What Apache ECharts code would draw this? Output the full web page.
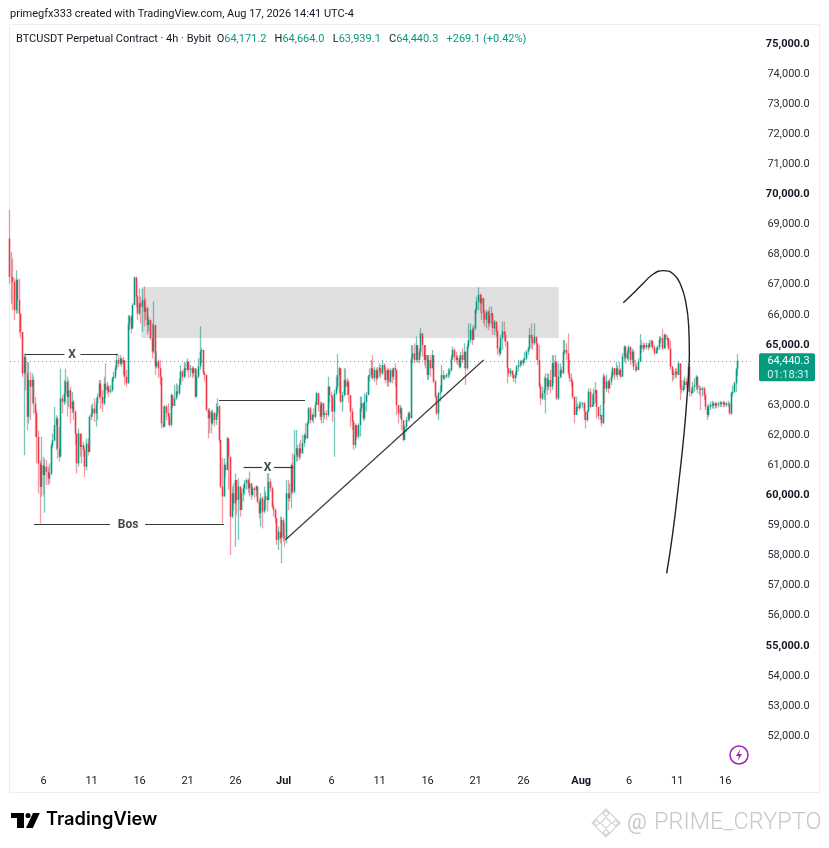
<!DOCTYPE html>
<html><head><meta charset="utf-8">
<style>html,body{margin:0;padding:0;background:#fff}#c{width:829px;height:848px}</style>
<script src="https://cdn.jsdelivr.net/npm/echarts@6/dist/echarts.min.js"></script>
</head><body><div id="c"></div>
<script>
// Bars: close, high, low, in tens of USD. Each open is the previous close.
const firstOpen = 6850;
const juneBars = [
6723,6945,6700, 6723,6806,6634, 6706,6784,6612, 6612,6718,6579, 6712,6745,6601, 6646,6718,6601,
6601,6716,6535, 6540,6601,6518, 6402,6540,6391, 6457,6468,6130, 6402,6468,6346, 6258,6440,6213,
6380,6440,6236, 6358,6407,6247, 6380,6402,6302, 6302,6391,6269, 6269,6324,6191, 6191,6280,6103,
6103,6213,6003, 6025,6114,5903, 6097,6191,5992, 6064,6125,5997, 6092,6119,5939, 6075,6114,6031,
6053,6092,6031, 6069,6103,6036, 6164,6170,6064, 6180,6202,6153, 6230,6291,6175, 6252,6263,6147,
6153,6258,6119, 6125,6225,6108, 6319,6418,6125, 6308,6330,6269, 6335,6380,6297, 6374,6418,6302,
6324,6391,6258, 6346,6380,6291, 6285,6358,6236, 6308,6341,6269, 6274,6313,6247, 6202,6280,6164,
6103,6202,6069, 6202,6219,6092, 6158,6202,6125, 6164,6202,6103, 6147,6175,6125, 6092,6158,6058,
6169,6186,6080, 6141,6186,6130, 6258,6263,6141, 6269,6297,6247, 6285,6302,6258, 6269,6319,6241,
6302,6319,6225, 6324,6335,6247, 6368,6380,6319, 6324,6380,6285, 6302,6346,6274, 6368,6391,6297,
6346,6435,6319, 6358,6374,6335, 6341,6363,6324, 6346,6363,6335, 6385,6391,6341, 6391,6407,6374,
6418,6429,6385, 6446,6468,6413, 6435,6463,6424, 6452,6463,6429, 6435,6452,6424, 6446,6457,6396,
6391,6446,6363, 6369,6413,6358, 6568,6596,6374, 6590,6596,6546, 6551,6596,6535, 6629,6635,6562,
6721,6723,6629, 6657,6723,6623, 6601,6662,6579, 6635,6684,6596, 6623,6657,6568, 6646,6684,6540,
6607,6691,6558, 6619,6652,6580, 6563,6624,6530, 6580,6591,6541, 6519,6580,6513, 6475,6569,6452,
6563,6641,6469, 6425,6563,6397, 6441,6475,6419, 6419,6447,6386, 6391,6447,6364, 6236,6391,6220,
6225,6292,6220, 6292,6297,6225, 6270,6297,6247, 6258,6303,6231, 6231,6270,6225, 6330,6336,6225,
6294,6330,6286, 6319,6364,6297, 6342,6369,6314, 6336,6364,6325, 6364,6386,6330, 6408,6430,6364,
6391,6414,6375, 6419,6441,6386, 6414,6436,6391, 6441,6452,6408, 6414,6436,6386, 6419,6430,6391,
6403,6425,6386, 6419,6425,6391, 6325,6419,6319, 6391,6414,6380, 6425,6452,6386, 6475,6558,6414,
6480,6486,6436, 6403,6480,6397, 6397,6408,6375, 6281,6397,6275, 6253,6286,6186, 6275,6286,6203,
6236,6281,6203, 6270,6281,6231, 6247,6275,6225, 6270,6303,6231, 6292,6319,6258, 6181,6297,6170,
6026,6181,6020, 5993,6120,5904, 6098,6120,6070, 6081,6103,6059, 6186,6192,6081, 6125,6186,6015,
5926,6125,5799, 6004,6026,5921, 5970,6037,5948, 6048,6070,5826, 5981,6048,5931, 6026,6053,5848,
5948,6026,5926, 6004,6020,5948, 6020,6031,5976, 6037,6048,5998, 6048,6053,6015, 6020,6053,6004,
6037,6076,5993, 5998,6037,5981, 6020,6026,5993, 6015,6026,5987, 6026,6031,5993, 5976,6026,5970,
5937,5981,5921, 5987,6004,5893, 5943,5993,5887, 5981,6026,5937, 5993,6009,5948, 5981,6070,5943,
6042,6070,5981, 6020,6053,6009, 5959,6026,5955, 5948,5970,5926, 5921,5954,5904, 5849,5921,5832,
5876,5893,5815, 5854,5926,5837, 5915,5926,5771
];
const julyBars = [
5860,5921,5843, 5854,5904,5826, 6003,6048,5837, 5987,6048,5948, 6003,6037,5976, 6098,6103,5954,
6009,6136,6003, 6131,6214,6003, 6153,6214,6109, 6125,6164,6109, 6153,6170,6114, 6136,6181,6120,
6170,6197,6142, 6197,6203,6158, 6186,6236,6181, 6236,6242,6186, 6286,6291,6231, 6247,6291,6236,
6264,6269,6242, 6258,6286,6236, 6297,6308,6253, 6336,6341,6297, 6297,6336,6275, 6258,6308,6247,
6303,6308,6236, 6264,6303,6236, 6269,6275,6253, 6264,6280,6247, 6358,6391,6258, 6330,6358,6303,
6325,6341,6275, 6275,6330,6241, 6336,6347,6125, 6358,6391,6330, 6397,6466,6347, 6419,6424,6336,
6308,6419,6303, 6330,6341,6275, 6380,6419,6325, 6358,6419,6330, 6374,6386,6330, 6330,6380,6303,
6275,6330,6225, 6242,6286,6214, 6164,6247,6148, 6230,6236,6153, 6192,6230,6181, 6230,6236,6186,
6286,6325,6192, 6303,6325,6275, 6253,6303,6242, 6308,6336,6247, 6330,6341,6275, 6391,6397,6330,
6397,6419,6374, 6419,6447,6386, 6386,6463,6380, 6413,6424,6374, 6386,6419,6363, 6413,6424,6380,
6419,6436,6391, 6402,6430,6386, 6430,6447,6397, 6413,6436,6380, 6380,6424,6369, 6413,6419,6358,
6374,6419,6358, 6413,6419,6369, 6391,6419,6369, 6419,6422,6380, 6413,6436,6358, 6297,6413,6264,
6269,6297,6236, 6286,6297,6253, 6247,6291,6214, 6181,6247,6175, 6225,6230,6192, 6247,6258,6208,
6269,6275,6242, 6253,6275,6242, 6452,6496,6253, 6469,6496,6436, 6447,6502,6436, 6496,6524,6441,
6447,6496,6436, 6474,6485,6436, 6535,6552,6458, 6496,6535,6458, 6447,6496,6430, 6463,6496,6419,
6397,6463,6380, 6447,6463,6380, 6419,6463,6391, 6463,6480,6419, 6375,6463,6369, 6325,6380,6319,
6269,6330,6264, 6336,6341,6247, 6341,6363,6308, 6397,6430,6341, 6386,6413,6380, 6391,6397,6380,
6397,6402,6386, 6402,6419,6386, 6413,6419,6391, 6452,6463,6408, 6480,6491,6447, 6458,6485,6441,
6447,6474,6436, 6452,6463,6430, 6424,6458,6419, 6463,6474,6419, 6447,6485,6436, 6474,6502,6419,
6419,6474,6363, 6491,6502,6413, 6513,6568,6485, 6546,6568,6502, 6513,6557,6496, 6552,6563,6513,
6613,6618,6546, 6640,6657,6602, 6663,6688,6613, 6635,6668,6602, 6652,6663,6580, 6602,6652,6568,
6580,6613,6557, 6607,6613,6552, 6568,6613,6546, 6596,6624,6557, 6602,6624,6568, 6552,6602,6530,
6574,6580,6530, 6541,6574,6524, 6485,6546,6463, 6469,6491,6458, 6519,6530,6463, 6541,6574,6480,
6530,6574,6508, 6508,6541,6491, 6419,6508,6369, 6402,6419,6391, 6411,6419,6391, 6397,6413,6386,
6386,6402,6374, 6397,6408,6369, 6424,6430,6391, 6430,6447,6408, 6441,6447,6422, 6436,6447,6427,
6447,6452,6427, 6452,6474,6436, 6474,6480,6447, 6485,6491,6463, 6530,6552,6480, 6519,6568,6485,
6502,6530,6480, 6524,6568,6496, 6502,6524,6447, 6447,6502,6430, 6358,6496,6352, 6319,6369,6297,
6336,6358,6313, 6347,6391,6313, 6386,6402,6269, 6358,6402,6330, 6380,6402,6347, 6358,6413,6336,
6436,6463,6347, 6391,6463,6369, 6441,6463,6391, 6319,6441,6313, 6391,6435,6313, 6413,6435,6386,
6402,6424,6386, 6474,6513,6402, 6480,6513,6463, 6469,6502,6447, 6402,6535,6397, 6386,6447,6374,
6374,6402,6358, 6325,6380,6319, 6264,6325,6236, 6291,6325,6275, 6286,6303,6275, 6297,6308,6280
];
const augustBars = [
6300,6308,6286, 6303,6308,6286, 6275,6308,6247, 6247,6275,6219, 6275,6280,6242, 6341,6352,6275,
6291,6352,6286, 6297,6330,6291, 6336,6352,6291, 6347,6374,6303, 6291,6341,6253, 6260,6291,6247,
6264,6297,6247, 6236,6264,6225, 6391,6402,6236, 6352,6397,6302, 6375,6397,6341, 6352,6380,6336,
6375,6386,6352, 6391,6408,6363, 6419,6424,6386, 6397,6419,6380, 6419,6441,6391, 6397,6430,6380,
6413,6441,6397, 6391,6419,6386, 6458,6469,6424, 6491,6496,6441, 6452,6491,6435, 6469,6480,6447,
6489,6496,6441, 6447,6493,6430, 6474,6485,6435, 6424,6480,6413, 6424,6447,6408, 6413,6435,6408,
6441,6452,6413, 6496,6533,6447, 6485,6513,6469, 6496,6504,6474, 6489,6502,6480, 6496,6504,6482,
6489,6502,6478, 6502,6513,6485, 6508,6515,6489, 6489,6513,6480, 6469,6496,6463, 6480,6489,6467,
6489,6496,6469, 6513,6526,6480, 6519,6524,6502, 6485,6550,6480, 6530,6535,6485, 6515,6533,6485,
6519,6530,6496, 6485,6519,6480, 6424,6513,6413, 6397,6427,6374, 6402,6413,6380, 6408,6419,6386,
6397,6419,6386, 6435,6441,6397, 6352,6435,6314, 6347,6380,6336, 6363,6380,6341, 6375,6391,6347,
6363,6386,6352, 6424,6435,6341, 6341,6424,6325, 6336,6352,6325, 6358,6375,6336, 6363,6386,6341,
6391,6397,6347, 6352,6391,6336, 6352,6363,6330, 6347,6358,6280, 6352,6358,6325, 6330,6358,6314,
6291,6336,6280, 6264,6297,6247, 6291,6302,6258, 6297,6308,6280, 6302,6311,6286, 6294,6308,6283,
6302,6308,6286, 6297,6305,6286, 6300,6308,6289, 6305,6311,6291, 6300,6308,6289, 6305,6311,6291,
6297,6308,6289, 6302,6308,6291, 6302,6311,6291, 6269,6305,6264, 6336,6341,6264, 6341,6363,6325,
6369,6375,6336, 6417,6419,6341, 6444,6466,6394
];
const lastPrice = 64440.3;
const lastPriceText = '64,440.3';
const countdownText = '01:18:31';
const yTicks = {min:51000, max:75000, step:1000};
const demandZone = {fromBar:82, toBar:343, top:66890, bottom:65200};
const flatLines = [
  {from:9.4, to:34, price:64664}, {from:44, to:67.5, price:64664},
  {from:15, to:62.5, price:59015}, {from:84.4, to:133.8, price:59015},
  {from:130.6, to:184.4, price:63136},
  {from:146, to:157.5, price:60909}, {from:165, to:177, price:60909}
];
const trendLine = {fromBar:172, fromPrice:58483, toBar:296, toPrice:64465};
const annotations = [[38.8,64664,'X'],[73.8,59015,'Bos'],[161,60909,'X']];
const curve = [[383.3,66370],[389.6,66682],[395.8,67015],[402.1,67324],[408.3,67434],[414.6,67324],[419.2,66958],[422.5,66350],[424.2,65573],[424.6,64689],[423.3,63359],[421.3,62030],[417.7,60256],[414.2,58707],[410.4,57378]];

const flat = [...juneBars, ...julyBars, ...augustBars];
const full = [], bodies = [], categories = [];
let prev = firstOpen;
for (let k = 0; k < flat.length; k += 3) {
  const c = flat[k]*10, h = flat[k+1]*10, l = flat[k+2]*10, o = prev*10;
  full.push([o, c, Math.min(l,o,c), Math.max(h,o,c)]);
  bodies.push([o, c, Math.min(o,c), Math.max(o,c)]);
  prev = flat[k];
}
const startMs = Date.UTC(2026,5,2,12), stepMs = 4*3600*1000;
const spare = 8;
for (let i = 0; i < full.length + spare; i++) categories.push(new Date(startMs + i*stepMs).toISOString());
const tickDays = [1,6,11,16,21,26];
const monthNames = {6:'Jul',7:'Aug'};
const isTick = v => { const d = new Date(v); return d.getUTCHours()===0 && tickDays.includes(d.getUTCDate()); };

const UP = '#089981', DOWN = '#F23645', INK = '#131722', LINE = '#3a3a3a';
const FONT = 'Roboto, "Liberation Sans", sans-serif';
const candleBase = {type:'candlestick', barWidth:1, silent:true, large:false};

const chart = echarts.init(document.getElementById('c'), null, {renderer:'canvas'});
chart.setOption({
  animation:false, backgroundColor:'#fff',
  grid:{left:9.2, top:43, width:742.4, height:722.2, containLabel:false},
  xAxis:[{type:'category', data:categories, boundaryGap:true,
    axisLine:{show:false}, axisTick:{show:false}, splitLine:{show:false},
    axisLabel:{margin:11, color:INK, fontFamily:FONT, fontSize:11, hideOverlap:false,
      interval:(i,v)=>isTick(v),
      formatter:v=>{const d=new Date(v); return d.getUTCDate()===1 ? '{b|'+monthNames[d.getUTCMonth()]+'}' : String(d.getUTCDate());},
      rich:{b:{fontWeight:'bold',fontFamily:FONT,fontSize:11,color:INK}}}},
    {type:'value', show:false, min:-0.5, max:categories.length-0.5, position:'top'}],
  yAxis:{type:'value', position:'right', min:yTicks.min, max:yTicks.max, interval:yTicks.step, scale:true,
    axisLine:{show:false}, axisTick:{show:false}, splitLine:{show:false},
    axisLabel:{align:'right', margin:58, color:'#2a2e39', fontFamily:FONT, fontSize:11, showMinLabel:true, showMaxLabel:true, padding:[2,0,0,0],
      formatter:v=>{ if(v===yTicks.min) return ''; const s=v.toLocaleString('en-US')+'.0'; return v%5000===0 ? '{b|'+s+'}' : s; },
      rich:{b:{fontWeight:'bold',fontFamily:FONT,fontSize:11,color:INK}}}},
  series:[
    {type:'line', data:[], z:1, silent:true, showSymbol:false,
      markArea:{silent:true, itemStyle:{color:'#e0e0e0'}, data:[[{xAxis:demandZone.fromBar,yAxis:demandZone.top},{xAxis:demandZone.toBar,yAxis:demandZone.bottom}]]},
      markLine:{silent:true, symbol:'none', animation:false, label:{show:false},
        lineStyle:{color:UP,type:[1,3],width:1,opacity:.75},
        data:[[{coord:[0,lastPrice]},{coord:[full.length+spare-1,lastPrice]}]]}},
    {...candleBase, name:'wicks', z:2, data:full,
      itemStyle:{color:'rgba(8,153,129,.55)',color0:'rgba(242,54,69,.5)',borderColor:'rgba(8,153,129,.55)',borderColor0:'rgba(242,54,69,.5)',borderWidth:1.3}},
    {...candleBase, name:'bodies', z:3, data:bodies,
      itemStyle:{color:UP,color0:DOWN,borderColor:UP,borderColor0:DOWN,borderWidth:1.5}},
    {type:'line', xAxisIndex:1, z:5, data:[], silent:true, showSymbol:false,
      markLine:{silent:true, symbol:'none', animation:false, label:{show:false},
        lineStyle:{color:LINE,type:'solid',width:1.2},
        data:[...flatLines.map(s=>[{coord:[s.from,s.price]},{coord:[s.to,s.price]}]),
          [{coord:[trendLine.fromBar,trendLine.fromPrice]},{coord:[trendLine.toBar,trendLine.toPrice]}]]}},
    {type:'line', xAxisIndex:1, z:6, data:curve, smooth:0.5, showSymbol:false, silent:true, clip:false,
      lineStyle:{color:'#222',width:1.4}},
    {type:'scatter', xAxisIndex:1, z:7, data:annotations, symbolSize:0, silent:true,
      label:{show:true, position:'inside', offset:[0,1], formatter:p=>p.data[2], color:INK, fontFamily:FONT, fontWeight:'bold', fontSize:12}}
  ]
});

const tagY = chart.convertToPixel({yAxisIndex:0}, lastPrice);
const P = (pts,fill)=>({type:'polygon',shape:{points:pts},style:{fill}});
const D = (cx,cy,r)=>({type:'polygon',shape:{points:[[cx,cy-r],[cx+r,cy],[cx,cy+r],[cx-r,cy]]},style:{fill:'none',stroke:'#d4d4d4',lineWidth:1.2}});
const legendParts = {k:{fill:INK,fontSize:11,fontFamily:FONT},g:{fill:UP,fontSize:11,fontFamily:FONT}};
chart.setOption({graphic:[
  {type:'rect',shape:{x:9.5,y:24.5,width:810,height:768},style:{fill:'none',stroke:'#eceef2',lineWidth:1},z:0,silent:true},
  {type:'text',x:10,y:9,style:{text:'primegfx333 created with TradingView.com, Aug 17, 2026 14:41 UTC-4',font:'11px '+FONT,fill:INK}},
  {type:'text',x:16,y:34,style:{
    text:'{k|BTCUSDT Perpetual Contract · 4h · Bybit}  {k|O}{g|64,171.2}   {k|H}{g|64,664.0}   {k|L}{g|63,939.1}   {k|C}{g|64,440.3}   {g|+269.1 (+0.42%)}',
    font:'11px '+FONT, rich:legendParts}},
  {type:'rect',shape:{x:759,y:tagY-7.5,width:56,height:28,r:2},style:{fill:UP},z:20},
  {type:'text',x:788.5,y:tagY,z:21,style:{text:lastPriceText,font:'11px '+FONT,fill:'#fff',align:'center',verticalAlign:'middle'}},
  {type:'text',x:788.5,y:tagY+14,z:21,style:{text:countdownText,font:'11px '+FONT,fill:'#d5efe9',align:'center',verticalAlign:'middle'}},
  {type:'circle',shape:{cx:739,cy:755,r:9},style:{fill:'#fff',stroke:'#9c27b0',lineWidth:1.5}},
  P([[740.5,749],[736,756],[739,756],[737.5,761],[742,754],[739,754]],'#9c27b0'),
  {type:'rect',shape:{x:11,y:813,width:13,height:5},style:{fill:'#000'}},
  {type:'rect',shape:{x:17,y:813,width:7,height:15},style:{fill:'#000'}},
  {type:'circle',shape:{cx:28,cy:815.5,r:2.6},style:{fill:'#000'}},
  P([[33,813],[39.8,813],[32.8,828],[26,828]],'#000'),
  {type:'text',x:46,y:820,style:{text:'TradingView',font:'600 18.3px Inter, '+FONT,fill:'#000',verticalAlign:'middle'}},
  D(606,823,14), D(606,823,5.5), D(596.5,823,3), D(615.5,823,3), D(606,813.5,3), D(606,832.5,3),
  {type:'text',x:627,y:823,style:{text:'@',font:'22px '+FONT,fill:'#c8c8c8',verticalAlign:'middle'}},
  {type:'text',x:654,y:823,style:{text:'PRIME_CRYPTO',font:'300 23.5px '+FONT,fill:'#c8c8c8',verticalAlign:'middle'}}
]});
</script></body></html>
